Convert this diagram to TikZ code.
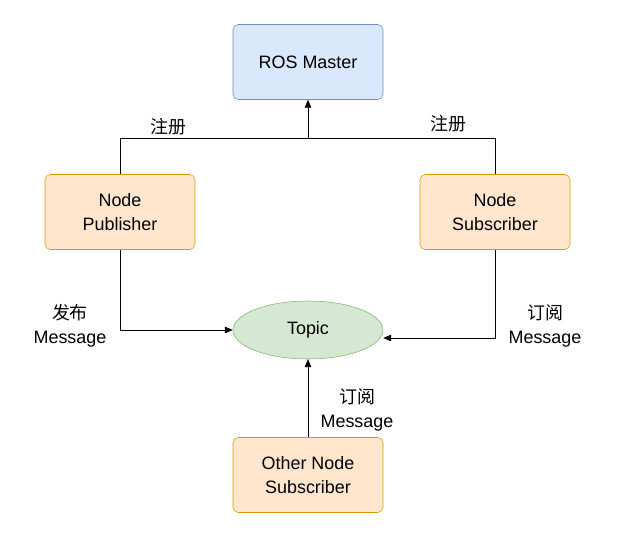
\documentclass[tikz,border=0pt]{standalone}
\usepackage{fontspec}
\setmainfont{Liberation Sans}
\newfontfamily\cjk{Noto Sans CJK SC}
\usetikzlibrary{shapes.geometric,arrows.meta}
\definecolor{masterfill}{HTML}{DAE8FC}
\definecolor{masterline}{HTML}{6C8EBF}
\definecolor{nodefill}{HTML}{FFE6CC}
\definecolor{nodeline}{HTML}{D79B00}
\definecolor{topicfill}{HTML}{D5E8D4}
\definecolor{topicline}{HTML}{82B366}
\begin{document}
\begin{tikzpicture}[x=0.02646cm, y=-0.02646cm,
	every node/.style={font=\fontsize{13.5}{18}\selectfont},
	box/.style={draw, rounded corners=4pt, minimum width=150*0.02646cm, minimum height=75*0.02646cm, align=center, inner sep=0pt},
	master/.style={box, fill=masterfill, draw=masterline},
	rosnode/.style={box, fill=nodefill, draw=nodeline},
	link/.style={-{Triangle[length=6pt, width=5pt]}}]
	\useasboundingbox (0, 0) rectangle (635, 540);
	\node[master] (master) at (308, 62) {ROS Master};
	\node[rosnode] (pub) at (120, 212) {Node\\Publisher};
	\node[rosnode] (sub) at (495, 212) {Node\\Subscriber};
	\node[ellipse, draw=topicline, fill=topicfill, minimum width=150*0.02646cm, minimum height=58*0.02646cm] (topic) at (308, 330) {Topic};
	\node[rosnode] (other) at (308, 475) {Other Node\\Subscriber};
	\coordinate (join) at (308, 138);
	\draw (pub.north) |- (join);
	\draw (sub.north) |- (join);
	\draw[link] (join) -- (master.south);
	\draw[link] (pub.south) |- (topic.west);
	\draw[link] (sub.south) |- ([yshift=-8*0.02646cm]topic.east);
	\draw[link] (other.north) -- (topic.south);
	\node at (168, 127) {\cjk 注册};
	\node at (448, 124) {\cjk 注册};
	\node[align=center] at (70, 326) {{\cjk 发布}\\Message};
	\node[align=center] at (545, 326) {{\cjk 订阅}\\Message};
	\node[align=center] at (357, 410) {{\cjk 订阅}\\Message};
\end{tikzpicture}
\end{document}
